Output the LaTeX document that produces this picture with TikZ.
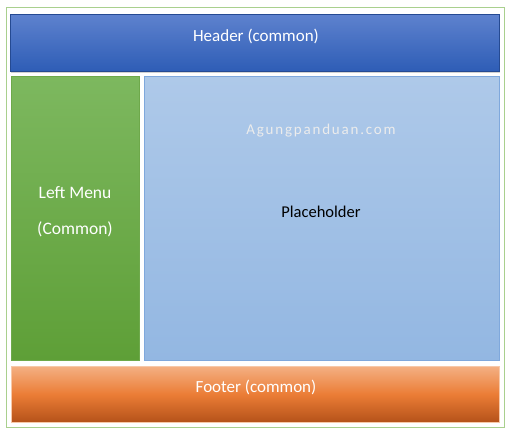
\documentclass[tikz,border=0pt]{standalone}
\usepackage{fontspec}
\setmainfont{Carlito}
\usetikzlibrary{shadows}
\definecolor{hdtop}{HTML}{5E82CE}
\definecolor{hdbot}{HTML}{2E5DB6}
\definecolor{gntop}{HTML}{7DB85F}
\definecolor{gnbot}{HTML}{5E9F37}
\definecolor{phtop}{HTML}{AEC9E9}
\definecolor{phbot}{HTML}{93B7E2}
\definecolor{phline}{HTML}{7FA8DC}
\definecolor{fttop}{HTML}{F4B083}
\definecolor{ftmid}{HTML}{EB7D36}
\definecolor{ftbot}{HTML}{B5521A}
\definecolor{frame}{HTML}{A9D08E}
\tikzset{
  box/.style={rectangle, inner sep=0pt, anchor=north west},
  lbl/.style={font=\fontsize{17}{19}\selectfont, text=white},
}
\begin{document}
\begin{tikzpicture}[x=1pt,y=-1pt]
\useasboundingbox (0,0) rectangle (512,433);
\fill[white] (0,0) rectangle (512,433);
\node[box, draw=frame, line width=1.2pt, minimum width=498pt, minimum height=420pt] (frm) at (6,7) {};
\node[box, top color=hdtop, bottom color=hdbot, draw=hdbot!80!black, line width=0.4pt,
  drop shadow={shadow xshift=1pt, shadow yshift=-2pt, opacity=0.35},
  minimum width=489pt, minimum height=57pt] (hdr) at (10,14) {};
\node[lbl] (hdrt) at (256,36) {Header (common)};
\node[box, top color=gntop, bottom color=gnbot, draw=gnbot!90!white, line width=0.4pt,
  minimum width=128pt, minimum height=284pt] (lm) at (11,76) {};
\node[lbl, font=\fontsize{17.5}{19}\selectfont] (lmt1) at (75,193) {Left Menu};
\node[lbl, font=\fontsize{17.5}{19}\selectfont] (lmt2) at (75,229) {(Common)};
\node[box, top color=phtop, bottom color=phbot, draw=phline, line width=0.8pt,
  minimum width=355pt, minimum height=284pt] (ph) at (144,76) {};
\node[font=\fontsize{15}{17}\selectfont\addfontfeatures{LetterSpace=12}, text=white!85!gray] (wm) at (321,131) {Agungpanduan.com};
\node[font=\fontsize{16.5}{18}\selectfont, text=black] (pht) at (321,212) {Placeholder};
\node[box, top color=fttop, bottom color=ftbot, middle color=ftmid, draw=fttop!70!white, line width=0.4pt,
  minimum width=488pt, minimum height=56pt] (ft) at (11,366) {};
\node[lbl] (ftt) at (256,387) {Footer (common)};
\end{tikzpicture}
\end{document}
